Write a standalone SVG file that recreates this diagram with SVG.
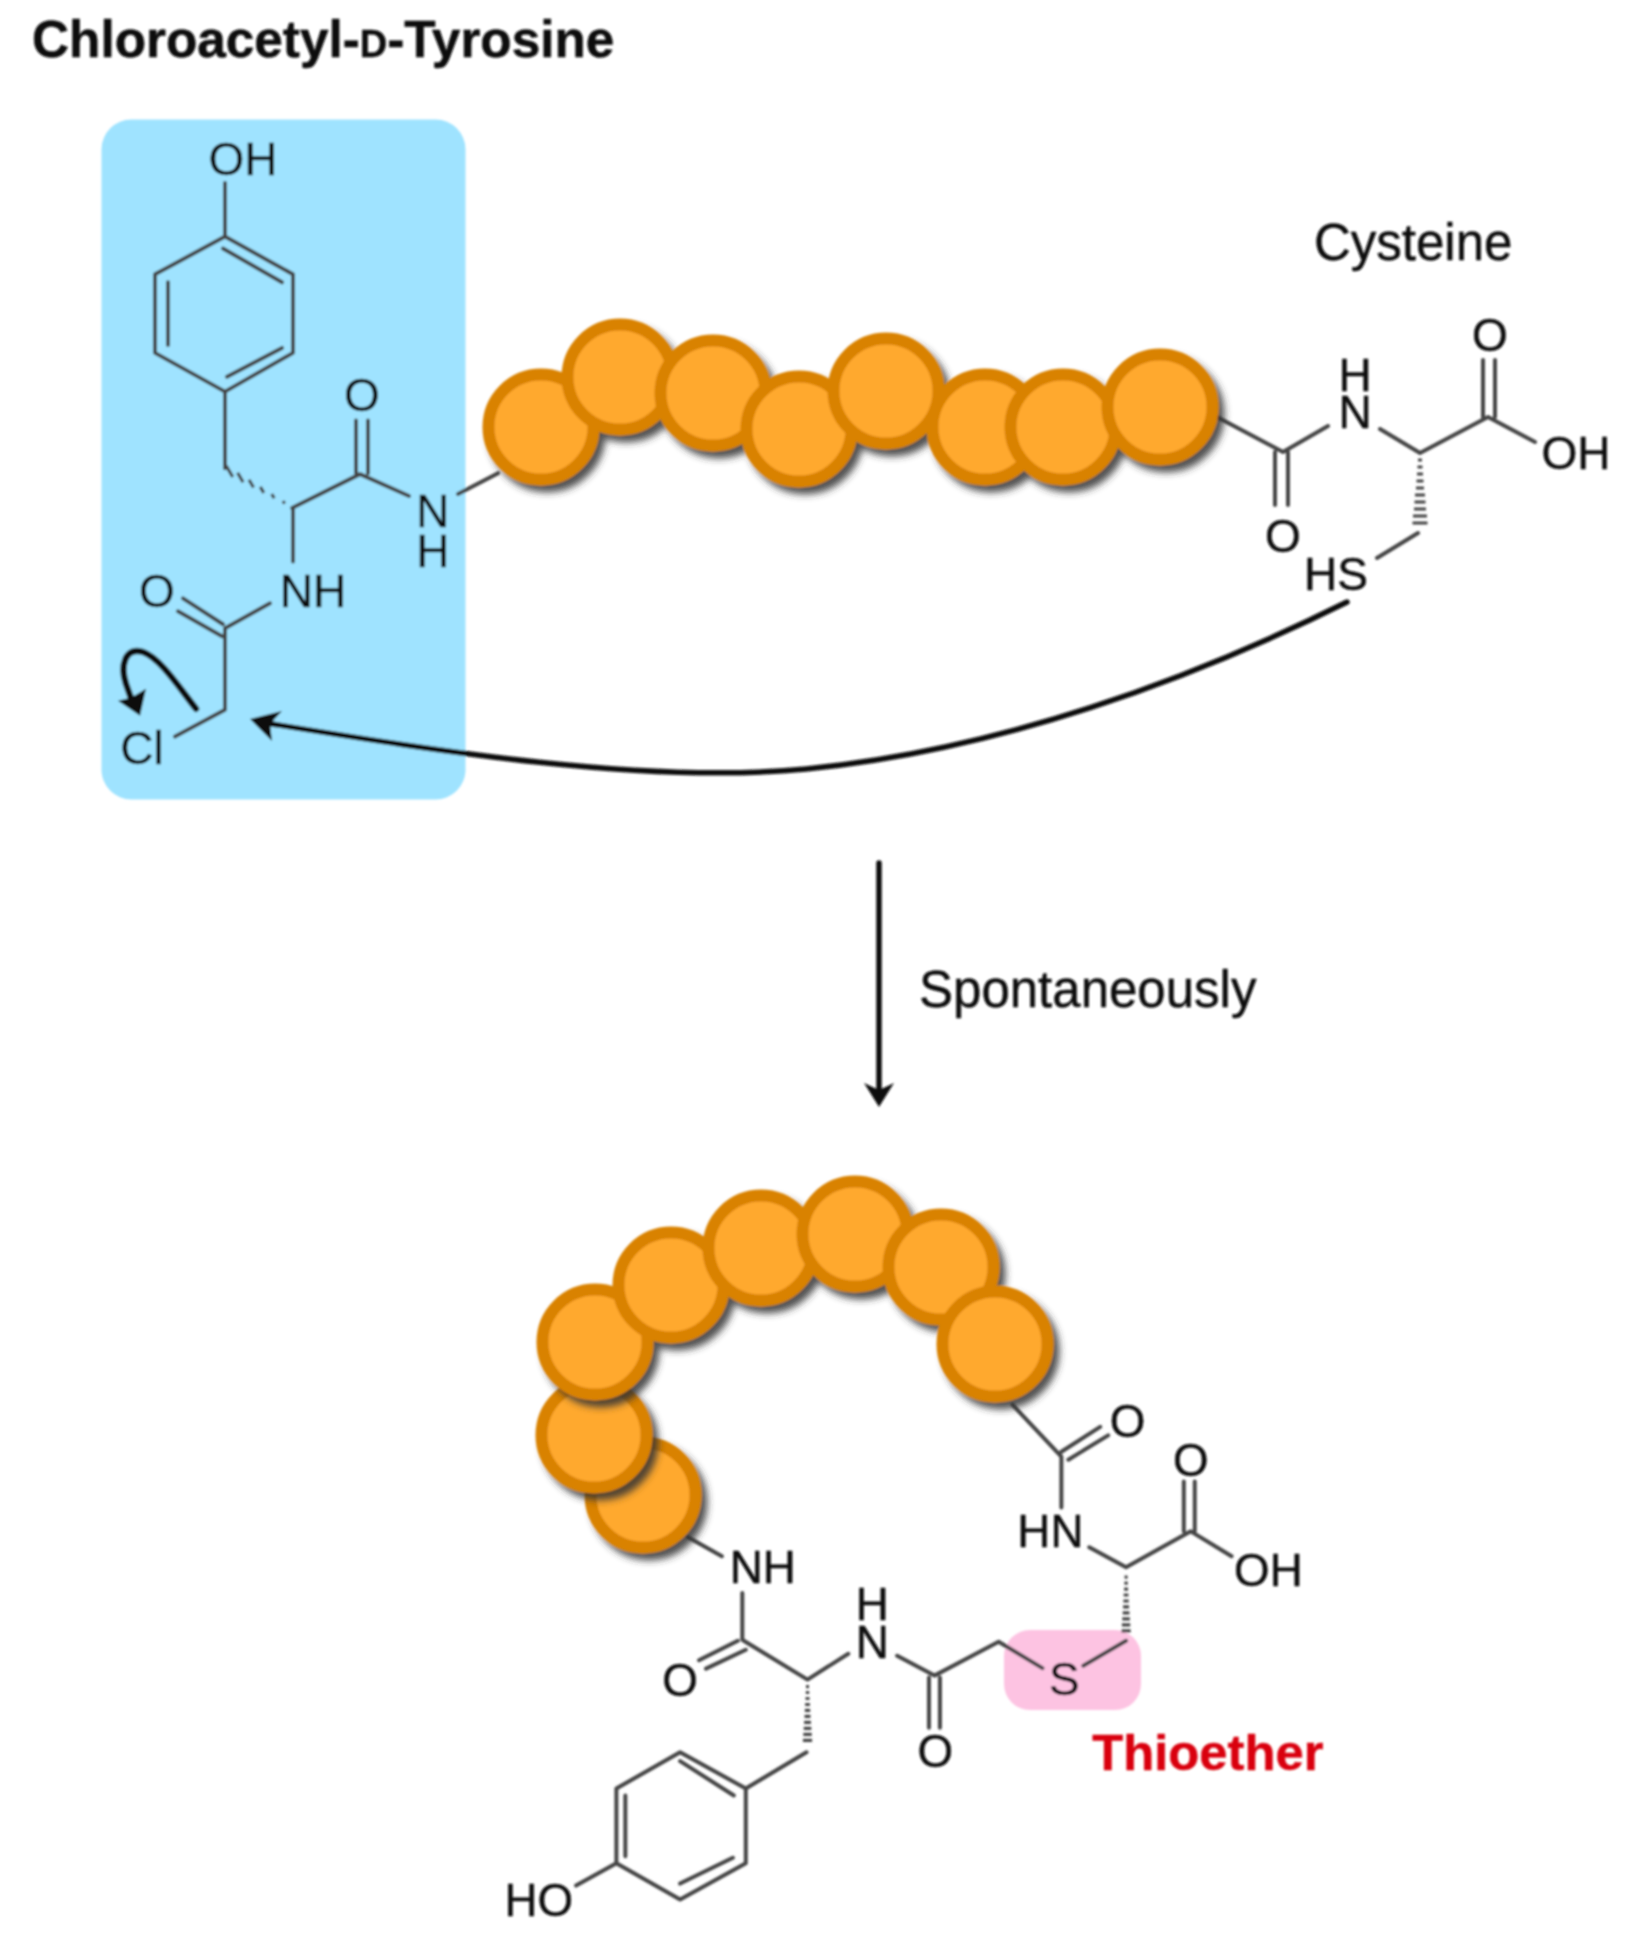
<svg xmlns="http://www.w3.org/2000/svg" width="1639" height="1944" viewBox="0 0 1639 1944">
<style>
text{font-family:"Liberation Sans",Arial,sans-serif;fill:#111;stroke:#111;stroke-width:.5px}
.a{font-size:46px;text-anchor:middle}
.l{font-size:51px}
.b{font-size:51px;font-weight:700}
.bond{fill:none;stroke:#444;stroke-width:4;stroke-linecap:round;stroke-linejoin:round}
.hash{fill:none;stroke:#444;stroke-width:3.2}
.bead{fill:#ffa92f;stroke:#d98200;stroke-width:12}
.ink{fill:none;stroke:#111;stroke-linecap:round;stroke-linejoin:round}
</style>
<defs>
<filter id="sh" x="-20%" y="-20%" width="145%" height="145%"><feDropShadow dx="6" dy="7" stdDeviation="3.500" flood-color="#333" flood-opacity=".85"/></filter>
<filter id="soft" filterUnits="userSpaceOnUse" x="0" y="0" width="1639" height="1944"><feGaussianBlur stdDeviation=".8"/></filter>
<circle id="bd" class="bead" r="52.500"/>
</defs>
<rect width="1639" height="1944" fill="#fff"/>
<g filter="url(#soft)">
<text id="title" class="b" x="32" y="57" style="font-size:51.300px">Chloroacetyl-<tspan font-size="38">D</tspan>-Tyrosine</text>
<rect id="highlight-tyrosine" x="101.500" y="119.500" width="364" height="680" rx="30" fill="#9fe3ff"/>
<rect id="highlight-thioether" x="1004" y="1630" width="137" height="80" rx="26" fill="#fdc3e2"/>
<g id="connectors">
<g id="tyrosine-bonds" transform="scale(1 .994)">
<path class="bond" d="M225 184V238L293 276V355L225 394L155 355V276L225 238M223 250L282 284M227 379L282 350M168 284V347M225 394V471"/>
<path class="hash" d="M226.200 468.500L232.700 479.800M237.600 475.600L243.100 485.200M249 482.700L253.500 490.500M260.300 489.800L263.800 495.800M271.700 496.900L274.200 501.300M283 504L284.600 506.600"/>
<path class="bond" d="M292 511L360 477L409 499M356 423V476M368 423V476M458 497L498 476M293 512V565M270 607L225 632M183 602L223 628M178 615L222 640M225 632V714L175 741"/>
</g>
<g id="cysteine-bonds">
<path class="bond" d="M1217 417L1283 452L1328 426M1380 429L1420 453L1488 417L1535 442M1483 360V417M1495 360V417M1275 452V505M1288 452V505M1418 533L1377 558"/>
<path class="hash" d="M1418 460h4M1417.500 467h5M1417 474h6M1416.500 481h7M1416 488h8M1415 495h10M1414.500 502h11M1414 509h12M1413 516h14M1412.500 523h15"/>
</g>
<g id="product-bonds" transform="translate(480 1400) scale(.9955 .995) translate(-480 -1400)">
<path class="bond" d="M689 1538L723 1557M743.500 1594V1641M739 1642L700 1661.500M747 1651L707 1670M745 1642L809 1681L850 1655M899 1657L936.500 1677L1001 1643L1045 1669.500M931 1679V1729.500M942 1679V1729.500M1086 1667L1129 1642M1092 1548L1129 1568L1194 1532L1235 1557M1187 1482V1532M1198 1482V1532M1064 1508V1457L1015 1405M1064 1452L1103 1427M1071 1460L1111 1435.500M808 1754L747 1790.500L681 1754L617 1790.500V1865.500L681 1902L747 1865.500V1790.500M681 1763L735 1797.500M626 1797.500V1858.500M681 1886L734 1860M617 1865.500L576.500 1888"/>
<path class="hash" d="M1127.500 1578h3M1127.300 1584h3.400M1127 1590h4M1126.600 1596h4.800M1126.300 1602h5.400M1126 1608h6M1125.600 1614h6.800M1125.200 1620h7.600M1124.800 1626h8.400M1124.400 1632h9.200M807.500 1688h3M807.300 1694h3.400M807 1700h4M806.600 1706h4.800M806.300 1712h5.400M806 1718h6M805.600 1724h6.800M805.200 1730h7.600M804.800 1736h8.400M804.400 1742h9.200"/>
</g>
<g id="arrows">
<path class="ink" stroke-width="5.500" d="M1347 602C1190 680 1000 750 806 769C640 785 420 748 266 723"/>
<polygon points="250,719 282,711 270,724 272,741" fill="#111"/>
<g transform="scale(1 .994)">
<path class="ink" stroke-width="6.500" d="M196 713C178 690 160 662 143 656C125 650 120 670 126 688C128 695 132 705 136 712"/>
<polygon points="140,720 118,705 131,702 146,693" fill="#111"/>
</g>
<path class="ink" stroke-width="5.500" d="M879 863V1090" stroke-linecap="butt"/>
<polygon points="879,1107 864,1083 879,1090 894,1083" fill="#111"/>
</g>
</g>
<g id="peptide-top" filter="url(#sh)">
<use href="#bd" x="541" y="427"/><use href="#bd" x="620" y="377"/><use href="#bd" x="713" y="393"/><use href="#bd" x="799" y="429"/><use href="#bd" x="886" y="391"/><use href="#bd" x="985" y="427"/><use href="#bd" x="1063" y="427"/><use href="#bd" x="1160" y="407"/>
</g>
<g id="peptide-bottom">
<use href="#bd" x="643" y="1495" filter="url(#sh)"/>
<use href="#bd" x="594" y="1435" filter="url(#sh)"/>
<g filter="url(#sh)">
<use href="#bd" x="595" y="1342"/><use href="#bd" x="671" y="1285"/><use href="#bd" x="761" y="1248"/><use href="#bd" x="855" y="1234"/><use href="#bd" x="941" y="1267"/><use href="#bd" x="995" y="1344"/>
</g>
</g>
<g id="tyrosine-labels" transform="scale(1 .994)">
<text class="a" x="243" y="176">OH</text>
<text class="a" x="362" y="413">O</text>
<text class="a" x="433"><tspan x="433" y="530">N</tspan><tspan x="433" y="570">H</tspan></text>
<text class="a" x="313" y="611">NH</text>
<text class="a" x="157" y="611">O</text>
<text class="a" x="142" y="769">Cl</text>
</g>
<g id="cysteine-labels">
<text class="l" x="1314" y="260">Cysteine</text>
<text class="a" x="1355"><tspan x="1355" y="391">H</tspan><tspan x="1355" y="428">N</tspan></text>
<text class="a" x="1490" y="351">O</text>
<text class="a" x="1576" y="469">OH</text>
<text class="a" x="1283" y="552">O</text>
<text class="a" x="1336" y="590">HS</text>
</g>
<text id="condition" class="l" x="919" y="1007">Spontaneously</text>
<g id="product-labels" transform="translate(480 1400) scale(.9955 .995) translate(-480 -1400)">
<text class="a" x="764" y="1584">NH</text>
<text class="a" x="681" y="1697">O</text>
<text class="a" x="874"><tspan x="874" y="1621">H</tspan><tspan x="874" y="1659">N</tspan></text>
<text class="a" x="937.500" y="1769">O</text>
<text class="a" x="1067" y="1696">S</text>
<text class="a" x="1053" y="1548">HN</text>
<text class="a" x="1194" y="1476">O</text>
<text class="a" x="1272" y="1587">OH</text>
<text class="a" x="1130.500" y="1437">O</text>
<text class="a" x="539" y="1919">HO</text>
<text class="b" x="1095" y="1772" style="fill:#d90011;stroke:#d90011">Thioether</text>
</g>
</g>
</svg>
